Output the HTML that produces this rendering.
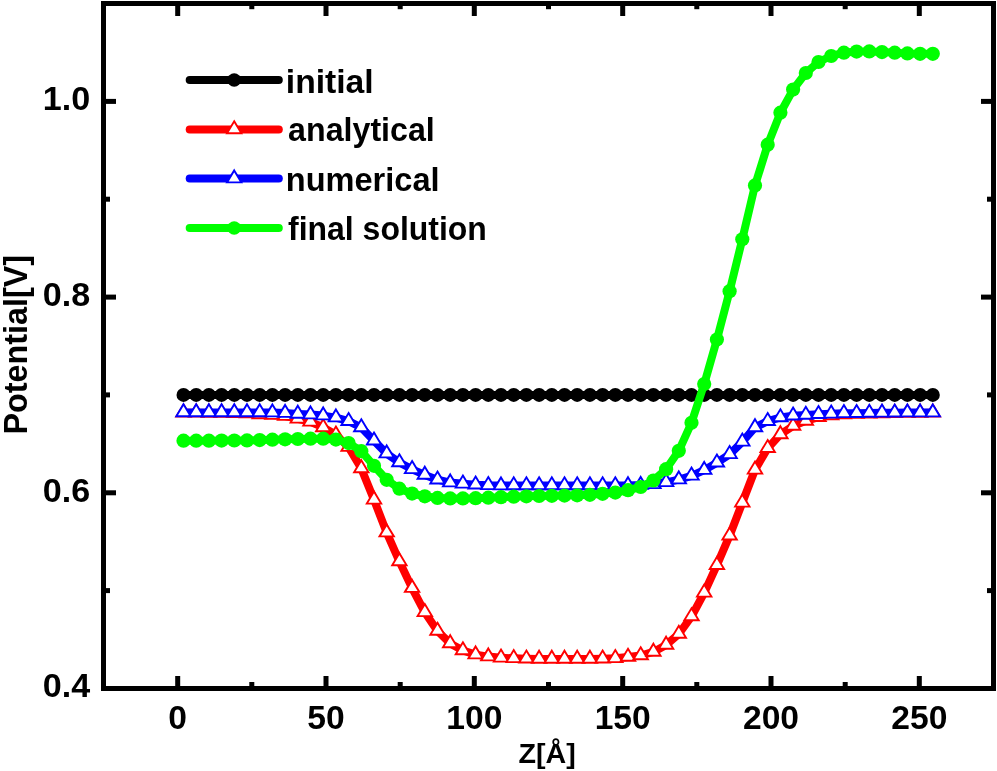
<!DOCTYPE html>
<html lang="en"><head><meta charset="utf-8"><title>Potential vs Z</title>
<style>html,body{margin:0;padding:0;background:#fff}body{width:997px;height:771px;overflow:hidden}</style></head>
<body>
<svg width="997" height="771" viewBox="0 0 997 771" style="display:block">
<rect width="997" height="771" fill="#fff"/>
<g id="s-initial"><polyline points="183.5,394.9 196.2,394.9 208.9,394.9 221.6,394.9 234.3,394.9 247.0,394.9 259.7,394.9 272.4,394.9 285.1,394.9 297.8,394.9 310.5,394.9 323.2,394.9 335.9,394.9 348.6,394.9 361.3,394.9 374.0,394.9 386.7,394.9 399.4,394.9 412.1,394.9 424.8,394.9 437.5,394.9 450.2,394.9 462.9,394.9 475.6,394.9 488.3,394.9 501.0,394.9 513.7,394.9 526.4,394.9 539.1,394.9 551.8,394.9 564.5,394.9 577.2,394.9 589.9,394.9 602.6,394.9 615.3,394.9 628.0,394.9 640.7,394.9 653.4,394.9 666.1,394.9 678.8,394.9 691.5,394.9 704.2,394.9 716.9,394.9 729.6,394.9 742.3,394.9 755.0,394.9 767.7,394.9 780.4,394.9 793.1,394.9 805.8,394.9 818.5,394.9 831.2,394.9 843.9,394.9 856.6,394.9 869.3,394.9 882.0,394.9 894.7,394.9 907.4,394.9 920.1,394.9 932.8,394.9" fill="none" stroke="#000" stroke-width="8" stroke-linejoin="round" stroke-linecap="round"/>
<circle cx="183.5" cy="394.9" r="7.0" fill="#000"/><circle cx="196.2" cy="394.9" r="7.0" fill="#000"/><circle cx="208.9" cy="394.9" r="7.0" fill="#000"/><circle cx="221.6" cy="394.9" r="7.0" fill="#000"/><circle cx="234.3" cy="394.9" r="7.0" fill="#000"/><circle cx="247.0" cy="394.9" r="7.0" fill="#000"/><circle cx="259.7" cy="394.9" r="7.0" fill="#000"/><circle cx="272.4" cy="394.9" r="7.0" fill="#000"/><circle cx="285.1" cy="394.9" r="7.0" fill="#000"/><circle cx="297.8" cy="394.9" r="7.0" fill="#000"/><circle cx="310.5" cy="394.9" r="7.0" fill="#000"/><circle cx="323.2" cy="394.9" r="7.0" fill="#000"/><circle cx="335.9" cy="394.9" r="7.0" fill="#000"/><circle cx="348.6" cy="394.9" r="7.0" fill="#000"/><circle cx="361.3" cy="394.9" r="7.0" fill="#000"/><circle cx="374.0" cy="394.9" r="7.0" fill="#000"/><circle cx="386.7" cy="394.9" r="7.0" fill="#000"/><circle cx="399.4" cy="394.9" r="7.0" fill="#000"/><circle cx="412.1" cy="394.9" r="7.0" fill="#000"/><circle cx="424.8" cy="394.9" r="7.0" fill="#000"/><circle cx="437.5" cy="394.9" r="7.0" fill="#000"/><circle cx="450.2" cy="394.9" r="7.0" fill="#000"/><circle cx="462.9" cy="394.9" r="7.0" fill="#000"/><circle cx="475.6" cy="394.9" r="7.0" fill="#000"/><circle cx="488.3" cy="394.9" r="7.0" fill="#000"/><circle cx="501.0" cy="394.9" r="7.0" fill="#000"/><circle cx="513.7" cy="394.9" r="7.0" fill="#000"/><circle cx="526.4" cy="394.9" r="7.0" fill="#000"/><circle cx="539.1" cy="394.9" r="7.0" fill="#000"/><circle cx="551.8" cy="394.9" r="7.0" fill="#000"/><circle cx="564.5" cy="394.9" r="7.0" fill="#000"/><circle cx="577.2" cy="394.9" r="7.0" fill="#000"/><circle cx="589.9" cy="394.9" r="7.0" fill="#000"/><circle cx="602.6" cy="394.9" r="7.0" fill="#000"/><circle cx="615.3" cy="394.9" r="7.0" fill="#000"/><circle cx="628.0" cy="394.9" r="7.0" fill="#000"/><circle cx="640.7" cy="394.9" r="7.0" fill="#000"/><circle cx="653.4" cy="394.9" r="7.0" fill="#000"/><circle cx="666.1" cy="394.9" r="7.0" fill="#000"/><circle cx="678.8" cy="394.9" r="7.0" fill="#000"/><circle cx="691.5" cy="394.9" r="7.0" fill="#000"/><circle cx="704.2" cy="394.9" r="7.0" fill="#000"/><circle cx="716.9" cy="394.9" r="7.0" fill="#000"/><circle cx="729.6" cy="394.9" r="7.0" fill="#000"/><circle cx="742.3" cy="394.9" r="7.0" fill="#000"/><circle cx="755.0" cy="394.9" r="7.0" fill="#000"/><circle cx="767.7" cy="394.9" r="7.0" fill="#000"/><circle cx="780.4" cy="394.9" r="7.0" fill="#000"/><circle cx="793.1" cy="394.9" r="7.0" fill="#000"/><circle cx="805.8" cy="394.9" r="7.0" fill="#000"/><circle cx="818.5" cy="394.9" r="7.0" fill="#000"/><circle cx="831.2" cy="394.9" r="7.0" fill="#000"/><circle cx="843.9" cy="394.9" r="7.0" fill="#000"/><circle cx="856.6" cy="394.9" r="7.0" fill="#000"/><circle cx="869.3" cy="394.9" r="7.0" fill="#000"/><circle cx="882.0" cy="394.9" r="7.0" fill="#000"/><circle cx="894.7" cy="394.9" r="7.0" fill="#000"/><circle cx="907.4" cy="394.9" r="7.0" fill="#000"/><circle cx="920.1" cy="394.9" r="7.0" fill="#000"/><circle cx="932.8" cy="394.9" r="7.0" fill="#000"/>
</g>
<g id="s-analytical"><polyline points="183.5,412.8 196.2,412.8 208.9,412.9 221.6,413.0 234.3,413.2 247.0,413.6 259.7,414.4 272.4,415.1 285.1,416.1 297.8,418.8 310.5,421.8 323.2,427.4 335.9,434.8 348.6,447.1 361.3,468.4 374.0,499.8 386.7,532.6 399.4,561.4 412.1,588.1 424.8,612.3 437.5,631.0 450.2,643.4 462.9,650.5 475.6,654.6 488.3,656.6 501.0,657.8 513.7,658.3 526.4,658.7 539.1,658.9 551.8,658.9 564.5,658.9 577.2,658.9 589.9,658.9 602.6,658.7 615.3,658.3 628.0,657.0 640.7,655.5 653.4,651.9 666.1,644.9 678.8,634.0 691.5,616.5 704.2,592.8 716.9,565.2 729.6,535.7 742.3,502.8 755.0,469.8 767.7,448.2 780.4,434.4 793.1,426.0 805.8,420.9 818.5,417.2 831.2,415.5 843.9,414.6 856.6,414.1 869.3,413.7 882.0,413.4 894.7,413.2 907.4,413.0 920.1,412.9 932.8,412.8" fill="none" stroke="#f00" stroke-width="8" stroke-linejoin="round" stroke-linecap="round"/>
<path d="M183.5 404.6L190.7 416.6L176.3 416.6Z" fill="#fff" stroke="#f00" stroke-width="1.9"/><path d="M196.2 404.6L203.4 416.6L189.0 416.6Z" fill="#fff" stroke="#f00" stroke-width="1.9"/><path d="M208.9 404.7L216.1 416.7L201.7 416.7Z" fill="#fff" stroke="#f00" stroke-width="1.9"/><path d="M221.6 404.8L228.8 416.8L214.4 416.8Z" fill="#fff" stroke="#f00" stroke-width="1.9"/><path d="M234.3 405.0L241.5 417.0L227.1 417.0Z" fill="#fff" stroke="#f00" stroke-width="1.9"/><path d="M247.0 405.4L254.2 417.4L239.8 417.4Z" fill="#fff" stroke="#f00" stroke-width="1.9"/><path d="M259.7 406.2L266.9 418.2L252.5 418.2Z" fill="#fff" stroke="#f00" stroke-width="1.9"/><path d="M272.4 406.9L279.6 418.9L265.2 418.9Z" fill="#fff" stroke="#f00" stroke-width="1.9"/><path d="M285.1 407.9L292.3 419.9L277.9 419.9Z" fill="#fff" stroke="#f00" stroke-width="1.9"/><path d="M297.8 410.6L305.0 422.6L290.6 422.6Z" fill="#fff" stroke="#f00" stroke-width="1.9"/><path d="M310.5 413.6L317.7 425.6L303.3 425.6Z" fill="#fff" stroke="#f00" stroke-width="1.9"/><path d="M323.2 419.2L330.4 431.2L316.0 431.2Z" fill="#fff" stroke="#f00" stroke-width="1.9"/><path d="M335.9 426.6L343.1 438.6L328.7 438.6Z" fill="#fff" stroke="#f00" stroke-width="1.9"/><path d="M348.6 438.9L355.8 450.9L341.4 450.9Z" fill="#fff" stroke="#f00" stroke-width="1.9"/><path d="M361.3 460.2L368.5 472.2L354.1 472.2Z" fill="#fff" stroke="#f00" stroke-width="1.9"/><path d="M374.0 491.6L381.2 503.6L366.8 503.6Z" fill="#fff" stroke="#f00" stroke-width="1.9"/><path d="M386.7 524.4L393.9 536.4L379.5 536.4Z" fill="#fff" stroke="#f00" stroke-width="1.9"/><path d="M399.4 553.2L406.6 565.2L392.2 565.2Z" fill="#fff" stroke="#f00" stroke-width="1.9"/><path d="M412.1 579.9L419.3 591.9L404.9 591.9Z" fill="#fff" stroke="#f00" stroke-width="1.9"/><path d="M424.8 604.1L432.0 616.1L417.6 616.1Z" fill="#fff" stroke="#f00" stroke-width="1.9"/><path d="M437.5 622.8L444.7 634.8L430.3 634.8Z" fill="#fff" stroke="#f00" stroke-width="1.9"/><path d="M450.2 635.2L457.4 647.2L443.0 647.2Z" fill="#fff" stroke="#f00" stroke-width="1.9"/><path d="M462.9 642.3L470.1 654.3L455.7 654.3Z" fill="#fff" stroke="#f00" stroke-width="1.9"/><path d="M475.6 646.4L482.8 658.4L468.4 658.4Z" fill="#fff" stroke="#f00" stroke-width="1.9"/><path d="M488.3 648.4L495.5 660.4L481.1 660.4Z" fill="#fff" stroke="#f00" stroke-width="1.9"/><path d="M501.0 649.6L508.2 661.6L493.8 661.6Z" fill="#fff" stroke="#f00" stroke-width="1.9"/><path d="M513.7 650.1L520.9 662.1L506.5 662.1Z" fill="#fff" stroke="#f00" stroke-width="1.9"/><path d="M526.4 650.5L533.6 662.5L519.2 662.5Z" fill="#fff" stroke="#f00" stroke-width="1.9"/><path d="M539.1 650.7L546.3 662.7L531.9 662.7Z" fill="#fff" stroke="#f00" stroke-width="1.9"/><path d="M551.8 650.7L559.0 662.7L544.6 662.7Z" fill="#fff" stroke="#f00" stroke-width="1.9"/><path d="M564.5 650.7L571.7 662.7L557.3 662.7Z" fill="#fff" stroke="#f00" stroke-width="1.9"/><path d="M577.2 650.7L584.4 662.7L570.0 662.7Z" fill="#fff" stroke="#f00" stroke-width="1.9"/><path d="M589.9 650.7L597.1 662.7L582.7 662.7Z" fill="#fff" stroke="#f00" stroke-width="1.9"/><path d="M602.6 650.5L609.8 662.5L595.4 662.5Z" fill="#fff" stroke="#f00" stroke-width="1.9"/><path d="M615.3 650.1L622.5 662.1L608.1 662.1Z" fill="#fff" stroke="#f00" stroke-width="1.9"/><path d="M628.0 648.8L635.2 660.8L620.8 660.8Z" fill="#fff" stroke="#f00" stroke-width="1.9"/><path d="M640.7 647.3L647.9 659.3L633.5 659.3Z" fill="#fff" stroke="#f00" stroke-width="1.9"/><path d="M653.4 643.7L660.6 655.7L646.2 655.7Z" fill="#fff" stroke="#f00" stroke-width="1.9"/><path d="M666.1 636.7L673.3 648.7L658.9 648.7Z" fill="#fff" stroke="#f00" stroke-width="1.9"/><path d="M678.8 625.8L686.0 637.8L671.6 637.8Z" fill="#fff" stroke="#f00" stroke-width="1.9"/><path d="M691.5 608.3L698.7 620.3L684.3 620.3Z" fill="#fff" stroke="#f00" stroke-width="1.9"/><path d="M704.2 584.6L711.4 596.6L697.0 596.6Z" fill="#fff" stroke="#f00" stroke-width="1.9"/><path d="M716.9 557.0L724.1 569.0L709.7 569.0Z" fill="#fff" stroke="#f00" stroke-width="1.9"/><path d="M729.6 527.5L736.8 539.5L722.4 539.5Z" fill="#fff" stroke="#f00" stroke-width="1.9"/><path d="M742.3 494.6L749.5 506.6L735.1 506.6Z" fill="#fff" stroke="#f00" stroke-width="1.9"/><path d="M755.0 461.6L762.2 473.6L747.8 473.6Z" fill="#fff" stroke="#f00" stroke-width="1.9"/><path d="M767.7 440.0L774.9 452.0L760.5 452.0Z" fill="#fff" stroke="#f00" stroke-width="1.9"/><path d="M780.4 426.2L787.6 438.2L773.2 438.2Z" fill="#fff" stroke="#f00" stroke-width="1.9"/><path d="M793.1 417.8L800.3 429.8L785.9 429.8Z" fill="#fff" stroke="#f00" stroke-width="1.9"/><path d="M805.8 412.7L813.0 424.7L798.6 424.7Z" fill="#fff" stroke="#f00" stroke-width="1.9"/><path d="M818.5 409.0L825.7 421.0L811.3 421.0Z" fill="#fff" stroke="#f00" stroke-width="1.9"/><path d="M831.2 407.3L838.4 419.3L824.0 419.3Z" fill="#fff" stroke="#f00" stroke-width="1.9"/><path d="M843.9 406.4L851.1 418.4L836.7 418.4Z" fill="#fff" stroke="#f00" stroke-width="1.9"/><path d="M856.6 405.9L863.8 417.9L849.4 417.9Z" fill="#fff" stroke="#f00" stroke-width="1.9"/><path d="M869.3 405.5L876.5 417.5L862.1 417.5Z" fill="#fff" stroke="#f00" stroke-width="1.9"/><path d="M882.0 405.2L889.2 417.2L874.8 417.2Z" fill="#fff" stroke="#f00" stroke-width="1.9"/><path d="M894.7 405.0L901.9 417.0L887.5 417.0Z" fill="#fff" stroke="#f00" stroke-width="1.9"/><path d="M907.4 404.8L914.6 416.8L900.2 416.8Z" fill="#fff" stroke="#f00" stroke-width="1.9"/><path d="M920.1 404.7L927.3 416.7L912.9 416.7Z" fill="#fff" stroke="#f00" stroke-width="1.9"/><path d="M932.8 404.6L940.0 416.6L925.6 416.6Z" fill="#fff" stroke="#f00" stroke-width="1.9"/>
</g>
<g id="s-numerical"><polyline points="183.5,412.4 196.2,412.4 208.9,412.4 221.6,412.4 234.3,412.4 247.0,412.4 259.7,412.4 272.4,412.6 285.1,413.1 297.8,413.9 310.5,414.6 323.2,415.6 335.9,417.6 348.6,421.2 361.3,427.5 374.0,440.7 386.7,453.6 399.4,462.5 412.1,469.3 424.8,474.9 437.5,479.7 450.2,482.6 462.9,483.8 475.6,484.7 488.3,485.3 501.0,485.6 513.7,485.5 526.4,485.5 539.1,485.5 551.8,485.5 564.5,485.5 577.2,485.5 589.9,485.5 602.6,485.5 615.3,485.5 628.0,485.4 640.7,485.1 653.4,484.3 666.1,482.3 678.8,479.6 691.5,475.8 704.2,470.1 716.9,462.7 729.6,454.3 742.3,441.8 755.0,427.4 767.7,421.2 780.4,417.5 793.1,415.7 805.8,415.0 818.5,414.2 831.2,413.8 843.9,413.3 856.6,413.2 869.3,413.0 882.0,412.8 894.7,412.7 907.4,412.6 920.1,412.6 932.8,412.6" fill="none" stroke="#00f" stroke-width="8" stroke-linejoin="round" stroke-linecap="round"/>
<path d="M183.5 404.2L190.7 416.2L176.3 416.2Z" fill="#fff" stroke="#00f" stroke-width="1.9"/><path d="M196.2 404.2L203.4 416.2L189.0 416.2Z" fill="#fff" stroke="#00f" stroke-width="1.9"/><path d="M208.9 404.2L216.1 416.2L201.7 416.2Z" fill="#fff" stroke="#00f" stroke-width="1.9"/><path d="M221.6 404.2L228.8 416.2L214.4 416.2Z" fill="#fff" stroke="#00f" stroke-width="1.9"/><path d="M234.3 404.2L241.5 416.2L227.1 416.2Z" fill="#fff" stroke="#00f" stroke-width="1.9"/><path d="M247.0 404.2L254.2 416.2L239.8 416.2Z" fill="#fff" stroke="#00f" stroke-width="1.9"/><path d="M259.7 404.2L266.9 416.2L252.5 416.2Z" fill="#fff" stroke="#00f" stroke-width="1.9"/><path d="M272.4 404.4L279.6 416.4L265.2 416.4Z" fill="#fff" stroke="#00f" stroke-width="1.9"/><path d="M285.1 404.9L292.3 416.9L277.9 416.9Z" fill="#fff" stroke="#00f" stroke-width="1.9"/><path d="M297.8 405.7L305.0 417.7L290.6 417.7Z" fill="#fff" stroke="#00f" stroke-width="1.9"/><path d="M310.5 406.4L317.7 418.4L303.3 418.4Z" fill="#fff" stroke="#00f" stroke-width="1.9"/><path d="M323.2 407.4L330.4 419.4L316.0 419.4Z" fill="#fff" stroke="#00f" stroke-width="1.9"/><path d="M335.9 409.4L343.1 421.4L328.7 421.4Z" fill="#fff" stroke="#00f" stroke-width="1.9"/><path d="M348.6 413.0L355.8 425.0L341.4 425.0Z" fill="#fff" stroke="#00f" stroke-width="1.9"/><path d="M361.3 419.3L368.5 431.3L354.1 431.3Z" fill="#fff" stroke="#00f" stroke-width="1.9"/><path d="M374.0 432.5L381.2 444.5L366.8 444.5Z" fill="#fff" stroke="#00f" stroke-width="1.9"/><path d="M386.7 445.4L393.9 457.4L379.5 457.4Z" fill="#fff" stroke="#00f" stroke-width="1.9"/><path d="M399.4 454.3L406.6 466.3L392.2 466.3Z" fill="#fff" stroke="#00f" stroke-width="1.9"/><path d="M412.1 461.1L419.3 473.1L404.9 473.1Z" fill="#fff" stroke="#00f" stroke-width="1.9"/><path d="M424.8 466.7L432.0 478.7L417.6 478.7Z" fill="#fff" stroke="#00f" stroke-width="1.9"/><path d="M437.5 471.5L444.7 483.5L430.3 483.5Z" fill="#fff" stroke="#00f" stroke-width="1.9"/><path d="M450.2 474.4L457.4 486.4L443.0 486.4Z" fill="#fff" stroke="#00f" stroke-width="1.9"/><path d="M462.9 475.6L470.1 487.6L455.7 487.6Z" fill="#fff" stroke="#00f" stroke-width="1.9"/><path d="M475.6 476.5L482.8 488.5L468.4 488.5Z" fill="#fff" stroke="#00f" stroke-width="1.9"/><path d="M488.3 477.1L495.5 489.1L481.1 489.1Z" fill="#fff" stroke="#00f" stroke-width="1.9"/><path d="M501.0 477.4L508.2 489.4L493.8 489.4Z" fill="#fff" stroke="#00f" stroke-width="1.9"/><path d="M513.7 477.3L520.9 489.3L506.5 489.3Z" fill="#fff" stroke="#00f" stroke-width="1.9"/><path d="M526.4 477.3L533.6 489.3L519.2 489.3Z" fill="#fff" stroke="#00f" stroke-width="1.9"/><path d="M539.1 477.3L546.3 489.3L531.9 489.3Z" fill="#fff" stroke="#00f" stroke-width="1.9"/><path d="M551.8 477.3L559.0 489.3L544.6 489.3Z" fill="#fff" stroke="#00f" stroke-width="1.9"/><path d="M564.5 477.3L571.7 489.3L557.3 489.3Z" fill="#fff" stroke="#00f" stroke-width="1.9"/><path d="M577.2 477.3L584.4 489.3L570.0 489.3Z" fill="#fff" stroke="#00f" stroke-width="1.9"/><path d="M589.9 477.3L597.1 489.3L582.7 489.3Z" fill="#fff" stroke="#00f" stroke-width="1.9"/><path d="M602.6 477.3L609.8 489.3L595.4 489.3Z" fill="#fff" stroke="#00f" stroke-width="1.9"/><path d="M615.3 477.3L622.5 489.3L608.1 489.3Z" fill="#fff" stroke="#00f" stroke-width="1.9"/><path d="M628.0 477.2L635.2 489.2L620.8 489.2Z" fill="#fff" stroke="#00f" stroke-width="1.9"/><path d="M640.7 476.9L647.9 488.9L633.5 488.9Z" fill="#fff" stroke="#00f" stroke-width="1.9"/><path d="M653.4 476.1L660.6 488.1L646.2 488.1Z" fill="#fff" stroke="#00f" stroke-width="1.9"/><path d="M666.1 474.1L673.3 486.1L658.9 486.1Z" fill="#fff" stroke="#00f" stroke-width="1.9"/><path d="M678.8 471.4L686.0 483.4L671.6 483.4Z" fill="#fff" stroke="#00f" stroke-width="1.9"/><path d="M691.5 467.6L698.7 479.6L684.3 479.6Z" fill="#fff" stroke="#00f" stroke-width="1.9"/><path d="M704.2 461.9L711.4 473.9L697.0 473.9Z" fill="#fff" stroke="#00f" stroke-width="1.9"/><path d="M716.9 454.5L724.1 466.5L709.7 466.5Z" fill="#fff" stroke="#00f" stroke-width="1.9"/><path d="M729.6 446.1L736.8 458.1L722.4 458.1Z" fill="#fff" stroke="#00f" stroke-width="1.9"/><path d="M742.3 433.6L749.5 445.6L735.1 445.6Z" fill="#fff" stroke="#00f" stroke-width="1.9"/><path d="M755.0 419.2L762.2 431.2L747.8 431.2Z" fill="#fff" stroke="#00f" stroke-width="1.9"/><path d="M767.7 413.0L774.9 425.0L760.5 425.0Z" fill="#fff" stroke="#00f" stroke-width="1.9"/><path d="M780.4 409.3L787.6 421.3L773.2 421.3Z" fill="#fff" stroke="#00f" stroke-width="1.9"/><path d="M793.1 407.5L800.3 419.5L785.9 419.5Z" fill="#fff" stroke="#00f" stroke-width="1.9"/><path d="M805.8 406.8L813.0 418.8L798.6 418.8Z" fill="#fff" stroke="#00f" stroke-width="1.9"/><path d="M818.5 406.0L825.7 418.0L811.3 418.0Z" fill="#fff" stroke="#00f" stroke-width="1.9"/><path d="M831.2 405.6L838.4 417.6L824.0 417.6Z" fill="#fff" stroke="#00f" stroke-width="1.9"/><path d="M843.9 405.1L851.1 417.1L836.7 417.1Z" fill="#fff" stroke="#00f" stroke-width="1.9"/><path d="M856.6 405.0L863.8 417.0L849.4 417.0Z" fill="#fff" stroke="#00f" stroke-width="1.9"/><path d="M869.3 404.8L876.5 416.8L862.1 416.8Z" fill="#fff" stroke="#00f" stroke-width="1.9"/><path d="M882.0 404.6L889.2 416.6L874.8 416.6Z" fill="#fff" stroke="#00f" stroke-width="1.9"/><path d="M894.7 404.5L901.9 416.5L887.5 416.5Z" fill="#fff" stroke="#00f" stroke-width="1.9"/><path d="M907.4 404.4L914.6 416.4L900.2 416.4Z" fill="#fff" stroke="#00f" stroke-width="1.9"/><path d="M920.1 404.4L927.3 416.4L912.9 416.4Z" fill="#fff" stroke="#00f" stroke-width="1.9"/><path d="M932.8 404.4L940.0 416.4L925.6 416.4Z" fill="#fff" stroke="#00f" stroke-width="1.9"/>
</g>
<g id="s-final"><polyline points="183.5,440.7 196.2,440.7 208.9,440.7 221.6,440.6 234.3,440.5 247.0,440.4 259.7,440.1 272.4,439.7 285.1,439.3 297.8,439.0 310.5,438.7 323.2,438.7 335.9,439.6 348.6,443.1 361.3,451.2 374.0,465.8 386.7,479.8 399.4,488.7 412.1,493.6 424.8,496.3 437.5,497.9 450.2,498.4 462.9,498.4 475.6,498.2 488.3,497.7 501.0,497.2 513.7,496.7 526.4,496.3 539.1,496.0 551.8,495.8 564.5,495.6 577.2,495.3 589.9,494.8 602.6,493.8 615.3,492.6 628.0,490.2 640.7,487.0 653.4,480.5 666.1,469.2 678.8,450.8 691.5,422.8 704.2,384.1 716.9,339.6 729.6,291.2 742.3,239.3 755.0,185.4 767.7,144.7 780.4,112.7 793.1,89.6 805.8,73.0 818.5,62.0 831.2,56.0 843.9,52.7 856.6,51.6 869.3,51.4 882.0,52.1 894.7,52.7 907.4,53.4 920.1,53.8 932.8,53.8" fill="none" stroke="#0f0" stroke-width="8" stroke-linejoin="round" stroke-linecap="round"/>
<circle cx="183.5" cy="440.7" r="7.1" fill="#0f0"/><circle cx="196.2" cy="440.7" r="7.1" fill="#0f0"/><circle cx="208.9" cy="440.7" r="7.1" fill="#0f0"/><circle cx="221.6" cy="440.6" r="7.1" fill="#0f0"/><circle cx="234.3" cy="440.5" r="7.1" fill="#0f0"/><circle cx="247.0" cy="440.4" r="7.1" fill="#0f0"/><circle cx="259.7" cy="440.1" r="7.1" fill="#0f0"/><circle cx="272.4" cy="439.7" r="7.1" fill="#0f0"/><circle cx="285.1" cy="439.3" r="7.1" fill="#0f0"/><circle cx="297.8" cy="439.0" r="7.1" fill="#0f0"/><circle cx="310.5" cy="438.7" r="7.1" fill="#0f0"/><circle cx="323.2" cy="438.7" r="7.1" fill="#0f0"/><circle cx="335.9" cy="439.6" r="7.1" fill="#0f0"/><circle cx="348.6" cy="443.1" r="7.1" fill="#0f0"/><circle cx="361.3" cy="451.2" r="7.1" fill="#0f0"/><circle cx="374.0" cy="465.8" r="7.1" fill="#0f0"/><circle cx="386.7" cy="479.8" r="7.1" fill="#0f0"/><circle cx="399.4" cy="488.7" r="7.1" fill="#0f0"/><circle cx="412.1" cy="493.6" r="7.1" fill="#0f0"/><circle cx="424.8" cy="496.3" r="7.1" fill="#0f0"/><circle cx="437.5" cy="497.9" r="7.1" fill="#0f0"/><circle cx="450.2" cy="498.4" r="7.1" fill="#0f0"/><circle cx="462.9" cy="498.4" r="7.1" fill="#0f0"/><circle cx="475.6" cy="498.2" r="7.1" fill="#0f0"/><circle cx="488.3" cy="497.7" r="7.1" fill="#0f0"/><circle cx="501.0" cy="497.2" r="7.1" fill="#0f0"/><circle cx="513.7" cy="496.7" r="7.1" fill="#0f0"/><circle cx="526.4" cy="496.3" r="7.1" fill="#0f0"/><circle cx="539.1" cy="496.0" r="7.1" fill="#0f0"/><circle cx="551.8" cy="495.8" r="7.1" fill="#0f0"/><circle cx="564.5" cy="495.6" r="7.1" fill="#0f0"/><circle cx="577.2" cy="495.3" r="7.1" fill="#0f0"/><circle cx="589.9" cy="494.8" r="7.1" fill="#0f0"/><circle cx="602.6" cy="493.8" r="7.1" fill="#0f0"/><circle cx="615.3" cy="492.6" r="7.1" fill="#0f0"/><circle cx="628.0" cy="490.2" r="7.1" fill="#0f0"/><circle cx="640.7" cy="487.0" r="7.1" fill="#0f0"/><circle cx="653.4" cy="480.5" r="7.1" fill="#0f0"/><circle cx="666.1" cy="469.2" r="7.1" fill="#0f0"/><circle cx="678.8" cy="450.8" r="7.1" fill="#0f0"/><circle cx="691.5" cy="422.8" r="7.1" fill="#0f0"/><circle cx="704.2" cy="384.1" r="7.1" fill="#0f0"/><circle cx="716.9" cy="339.6" r="7.1" fill="#0f0"/><circle cx="729.6" cy="291.2" r="7.1" fill="#0f0"/><circle cx="742.3" cy="239.3" r="7.1" fill="#0f0"/><circle cx="755.0" cy="185.4" r="7.1" fill="#0f0"/><circle cx="767.7" cy="144.7" r="7.1" fill="#0f0"/><circle cx="780.4" cy="112.7" r="7.1" fill="#0f0"/><circle cx="793.1" cy="89.6" r="7.1" fill="#0f0"/><circle cx="805.8" cy="73.0" r="7.1" fill="#0f0"/><circle cx="818.5" cy="62.0" r="7.1" fill="#0f0"/><circle cx="831.2" cy="56.0" r="7.1" fill="#0f0"/><circle cx="843.9" cy="52.7" r="7.1" fill="#0f0"/><circle cx="856.6" cy="51.6" r="7.1" fill="#0f0"/><circle cx="869.3" cy="51.4" r="7.1" fill="#0f0"/><circle cx="882.0" cy="52.1" r="7.1" fill="#0f0"/><circle cx="894.7" cy="52.7" r="7.1" fill="#0f0"/><circle cx="907.4" cy="53.4" r="7.1" fill="#0f0"/><circle cx="920.1" cy="53.8" r="7.1" fill="#0f0"/><circle cx="932.8" cy="53.8" r="7.1" fill="#0f0"/>
</g>
<rect x="103.5" y="3.5" width="890.0" height="685.0" fill="none" stroke="#000" stroke-width="5"/>
<g fill="#000"><rect x="175.2" y="676" width="5" height="10"/><rect x="175.2" y="6" width="5" height="10"/><rect x="249.3" y="682" width="5" height="4"/><rect x="249.3" y="6" width="5" height="3.2"/><rect x="323.5" y="676" width="5" height="10"/><rect x="323.5" y="6" width="5" height="10"/><rect x="397.7" y="682" width="5" height="4"/><rect x="397.7" y="6" width="5" height="3.2"/><rect x="471.8" y="676" width="5" height="10"/><rect x="471.8" y="6" width="5" height="10"/><rect x="546.0" y="682" width="5" height="4"/><rect x="546.0" y="6" width="5" height="3.2"/><rect x="620.2" y="676" width="5" height="10"/><rect x="620.2" y="6" width="5" height="10"/><rect x="694.3" y="682" width="5" height="4"/><rect x="694.3" y="6" width="5" height="3.2"/><rect x="768.5" y="676" width="5" height="10"/><rect x="768.5" y="6" width="5" height="10"/><rect x="842.7" y="682" width="5" height="4"/><rect x="842.7" y="6" width="5" height="3.2"/><rect x="916.8" y="676" width="5" height="10"/><rect x="916.8" y="6" width="5" height="10"/><rect x="106" y="588.1" width="4" height="5"/><rect x="987" y="588.1" width="4" height="5"/><rect x="106" y="490.3" width="10" height="5"/><rect x="981" y="490.3" width="10" height="5"/><rect x="106" y="392.4" width="4" height="5"/><rect x="987" y="392.4" width="4" height="5"/><rect x="106" y="294.6" width="10" height="5"/><rect x="981" y="294.6" width="10" height="5"/><rect x="106" y="196.7" width="4" height="5"/><rect x="987" y="196.7" width="4" height="5"/><rect x="106" y="98.9" width="10" height="5"/><rect x="981" y="98.9" width="10" height="5"/></g>
<g font-family="'Liberation Sans', Arial, sans-serif" font-weight="bold" fill="#000">
<text x="90.2" y="110.3" font-size="33" text-anchor="end" textLength="47.4" lengthAdjust="spacingAndGlyphs">1.0</text>
<text x="90.2" y="306.0" font-size="33" text-anchor="end" textLength="47.4" lengthAdjust="spacingAndGlyphs">0.8</text>
<text x="90.2" y="501.7" font-size="33" text-anchor="end" textLength="47.4" lengthAdjust="spacingAndGlyphs">0.6</text>
<text x="90.2" y="697.4" font-size="33" text-anchor="end" textLength="47.4" lengthAdjust="spacingAndGlyphs">0.4</text>
<text x="177.7" y="729" font-size="33" text-anchor="middle" textLength="18.7" lengthAdjust="spacingAndGlyphs">0</text>
<text x="326.0" y="729" font-size="33" text-anchor="middle" textLength="37.4" lengthAdjust="spacingAndGlyphs">50</text>
<text x="474.3" y="729" font-size="33" text-anchor="middle" textLength="56.1" lengthAdjust="spacingAndGlyphs">100</text>
<text x="622.7" y="729" font-size="33" text-anchor="middle" textLength="56.1" lengthAdjust="spacingAndGlyphs">150</text>
<text x="771.0" y="729" font-size="33" text-anchor="middle" textLength="56.1" lengthAdjust="spacingAndGlyphs">200</text>
<text x="919.3" y="729" font-size="33" text-anchor="middle" textLength="56.1" lengthAdjust="spacingAndGlyphs">250</text>
<text x="547.2" y="763.4" font-size="28" text-anchor="middle" textLength="57.3" lengthAdjust="spacingAndGlyphs">Z[Å]</text>
<text transform="translate(26.7 344.7) rotate(-90)" font-size="33" text-anchor="middle" textLength="179.5" lengthAdjust="spacingAndGlyphs">Potential[V]</text>
<line x1="189.7" y1="80" x2="278.8" y2="80" stroke="#000" stroke-width="8" stroke-linecap="round"/><circle cx="234.2" cy="80" r="6.8" fill="#000"/><text x="285.8" y="92.6" font-size="34" textLength="87.9" lengthAdjust="spacingAndGlyphs">initial</text>
<line x1="189.7" y1="129.5" x2="278.8" y2="129.5" stroke="#f00" stroke-width="8" stroke-linecap="round"/><path d="M234.2 121.3L241.4 133.3L227.0 133.3Z" fill="#fff" stroke="#f00" stroke-width="1.9"/><text x="288.1" y="141.2" font-size="34" textLength="146.7" lengthAdjust="spacingAndGlyphs">analytical</text>
<line x1="189.7" y1="178.6" x2="278.8" y2="178.6" stroke="#00f" stroke-width="8" stroke-linecap="round"/><path d="M234.2 170.4L241.4 182.4L227.0 182.4Z" fill="#fff" stroke="#00f" stroke-width="1.9"/><text x="285.8" y="190.8" font-size="34" textLength="153.8" lengthAdjust="spacingAndGlyphs">numerical</text>
<line x1="189.7" y1="228" x2="278.8" y2="228" stroke="#0f0" stroke-width="8" stroke-linecap="round"/><circle cx="234.2" cy="228" r="6.8" fill="#0f0"/><text x="288.1" y="240" font-size="34" textLength="198.7" lengthAdjust="spacingAndGlyphs">final solution</text>
</g>
</svg>
</body></html>
